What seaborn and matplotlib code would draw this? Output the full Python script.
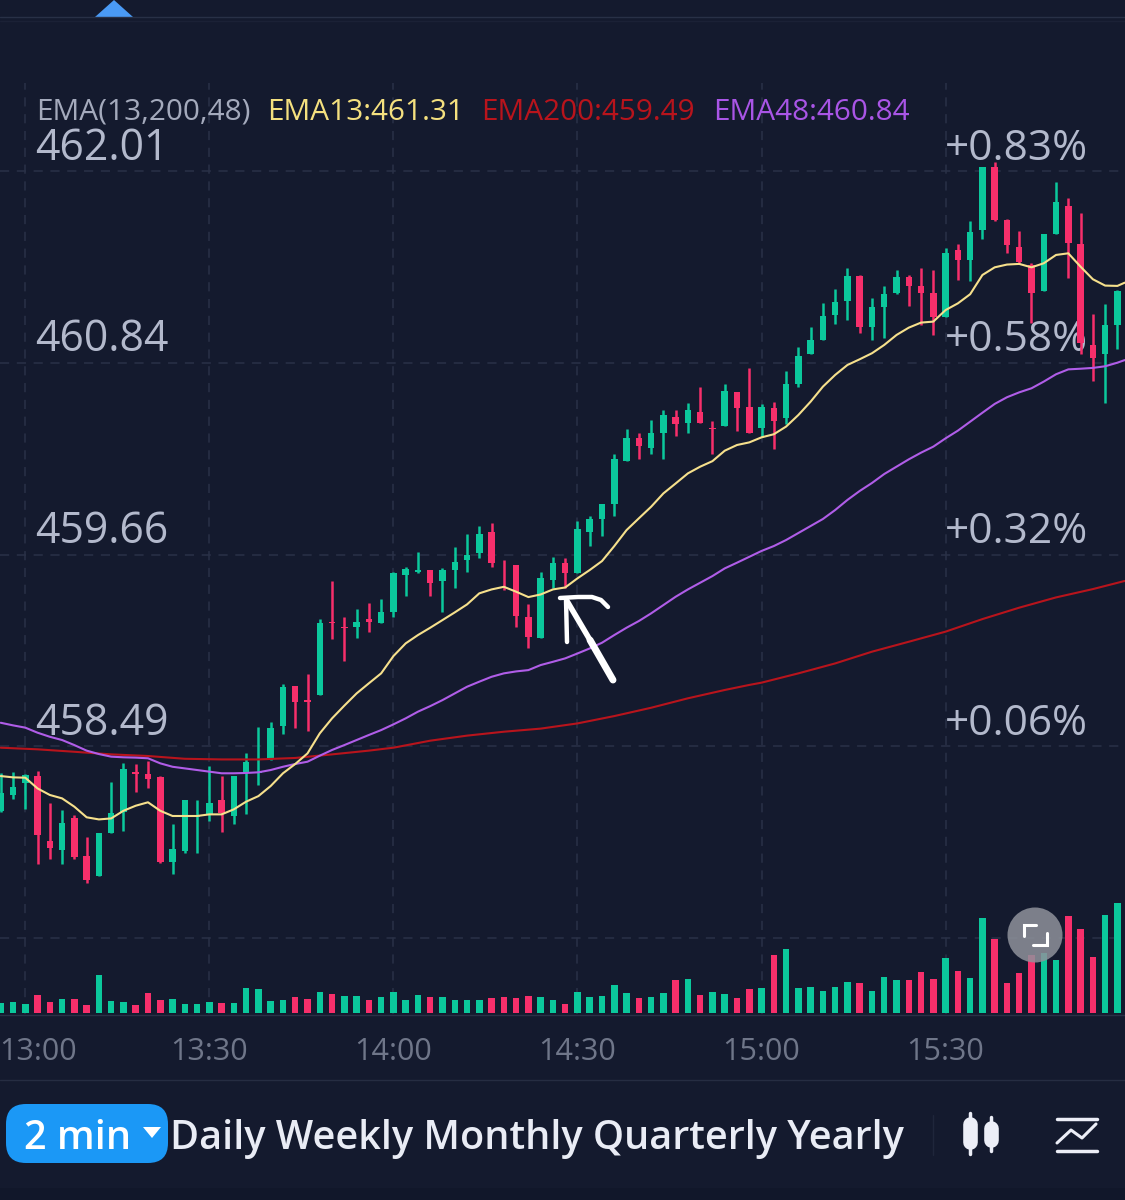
import numpy as np
import pandas as pd
import seaborn as sns
import matplotlib.pyplot as plt
from matplotlib.patches import Circle, FancyBboxPatch, Polygon

# ================================
# DATA (2 min candles, 12:56 onwards)
# ================================
opens = [458.085, 458.182, 458.253, 458.300, 457.899, 457.844, 458.043, 457.809, 457.685, 457.950, 458.079,
         458.325, 458.310, 458.294, 457.773, 457.840, 458.047, 458.059, 458.151, 458.053, 458.325, 458.317,
         458.406, 458.605, 458.852, 458.764, 458.795, 459.243, 459.212, 459.214, 459.261,
         459.234, 459.302, 459.531, 459.551, 459.562, 459.494, 459.562, 459.623, 459.664, 459.793, 459.588,
         459.592, 459.271, 459.142, 459.500, 459.603, 459.541, 459.793, 459.875, 459.965, 460.232, 460.374,
         460.312, 460.404, 460.502, 460.461, 460.533, 460.435, 460.445, 460.652, 460.564,
         460.436, 460.554, 460.493, 460.703, 460.885, 460.973, 461.127, 461.215, 461.366, 461.055, 461.174,
         461.260, 461.362, 461.305, 461.264, 461.117, 461.525, 461.464, 461.648, 462.037, 461.710, 461.546,
         461.433, 461.276, 461.624, 461.795, 461.562, 460.943, 460.888, 461.065]
closes = [458.192, 458.233, 458.304, 457.936, 457.854, 458.008, 457.803, 457.660, 457.950, 458.069, 458.341,
          458.310, 458.282, 457.773, 457.848, 458.151, 458.053, 458.130, 458.069, 458.300, 458.386, 458.325,
          458.595, 458.844, 458.754, 458.754, 459.235, 459.237, 459.208, 459.243, 459.245,
          459.302, 459.545, 459.566, 459.562, 459.484, 459.562, 459.613, 459.654, 459.782, 459.603, 459.584,
          459.281, 459.153, 459.511, 459.603, 459.541, 459.811, 459.875, 459.965, 460.243, 460.374, 460.322,
          460.404, 460.513, 460.455, 460.543, 460.466, 460.429, 460.662, 460.558, 460.404,
          460.564, 460.476, 460.703, 460.875, 460.973, 461.123, 461.204, 461.366, 461.055, 461.174, 461.256,
          461.362, 461.307, 461.264, 461.117, 461.505, 461.464, 461.634, 462.033, 461.710, 461.556, 461.454,
          461.264, 461.624, 461.822, 461.566, 460.953, 460.865, 461.065, 461.276]
highs = [458.315, 458.321, 458.308, 458.331, 458.130, 458.090, 458.059, 457.922, 457.950, 458.259, 458.380,
         458.372, 458.390, 458.300, 458.002, 458.151, 458.151, 458.359, 458.300, 458.300, 458.441, 458.601,
         458.631, 458.861, 458.852, 458.922, 459.261, 459.492, 459.272, 459.321, 459.362,
         459.382, 459.551, 459.582, 459.670, 459.562, 459.572, 459.703, 459.782, 459.832, 459.852, 459.621,
         459.592, 459.351, 459.551, 459.643, 459.633, 459.862, 459.893, 459.965, 460.271, 460.425, 460.400,
         460.482, 460.543, 460.543, 460.584, 460.682, 460.474, 460.703, 460.652, 460.799,
         460.581, 460.591, 460.783, 460.932, 461.055, 461.202, 461.284, 461.413, 461.372, 461.233, 461.305,
         461.403, 461.372, 461.413, 461.403, 461.536, 461.562, 461.703, 462.033, 462.063, 461.714, 461.644,
         461.444, 461.624, 461.945, 461.842, 461.755, 461.133, 461.194, 461.280]
lows = [458.079, 458.155, 458.094, 457.756, 457.787, 457.756, 457.787, 457.644, 457.685, 457.946, 457.963,
        458.202, 458.222, 457.766, 457.695, 457.824, 457.824, 458.024, 457.955, 458.004, 458.063, 458.243,
        458.396, 458.554, 458.595, 458.574, 458.795, 459.137, 459.004, 459.143, 459.184,
        459.234, 459.271, 459.402, 459.545, 459.402, 459.302, 459.451, 459.551, 459.633, 459.582, 459.439,
        459.214, 459.085, 459.142, 459.449, 459.453, 459.541, 459.711, 459.772, 459.895, 460.232, 460.243,
        460.273, 460.243, 460.384, 460.404, 460.466, 460.273, 460.445, 460.414, 460.404,
        460.380, 460.305, 460.456, 460.683, 460.885, 460.973, 461.072, 461.096, 461.014, 460.973, 460.984,
        461.256, 461.184, 461.065, 461.004, 461.117, 461.341, 461.335, 461.593, 461.705, 461.505, 461.444,
        461.076, 461.276, 461.624, 461.356, 460.888, 460.724, 460.585, 460.916]
volumes = [28, 31, 27, 53, 33, 41, 41, 23, 114, 34, 31, 24, 60, 39, 40, 26, 26, 32, 30, 28, 74, 71, 35, 38,
           47, 41, 63, 56, 49, 50, 38, 47, 62, 39, 54, 48, 47, 38, 38, 38, 45, 48, 44, 50, 48, 37,
           25, 63, 47, 51, 83, 59, 45, 48, 59, 98, 100, 54, 62, 56, 43, 70, 73, 173, 190, 74, 77, 64, 77,
           93, 90, 66, 107, 98, 99, 122, 101, 164, 126, 103, 284, 220, 90, 120, 173, 180, 157, 290, 250,
           166, 292, 328]
# doji candles whose volume bar is green although the candle is red
vol_green_doji = [28, 58]

ema13 = [458.298, 458.290, 458.288, 458.222, 458.182, 458.161, 458.110, 458.045, 458.032, 458.038, 458.085,
         458.116, 458.137, 458.085, 458.053, 458.053, 458.053, 458.063, 458.063, 458.094, 458.141, 458.175,
         458.237, 458.315, 458.372, 458.437, 458.560, 458.652, 458.730, 458.805, 458.867,
         458.928, 459.034, 459.112, 459.163, 459.208, 459.255, 459.302, 459.351, 459.419, 459.443, 459.459,
         459.429, 459.396, 459.412, 459.443, 459.455, 459.511, 459.562, 459.617, 459.709, 459.807, 459.879,
         459.950, 460.032, 460.093, 460.155, 460.196, 460.230, 460.294, 460.329, 460.345,
         460.376, 460.395, 460.442, 460.513, 460.595, 460.687, 460.759, 460.820, 460.855, 460.892, 460.943,
         461.004, 461.049, 461.080, 461.086, 461.157, 461.198, 461.254, 461.372, 461.419, 461.436, 461.440,
         461.419, 461.444, 461.495, 461.505, 461.423, 461.346, 461.307, 461.305, 461.325]
ema48 = [458.625, 458.609, 458.595, 458.564, 458.539, 458.519, 458.488, 458.454, 458.433, 458.417, 458.413,
         458.411, 458.407, 458.376, 458.355, 458.345, 458.335, 458.325, 458.315, 458.315, 458.317, 458.321,
         458.335, 458.355, 458.372, 458.386, 458.423, 458.458, 458.488, 458.519, 458.550,
         458.580, 458.615, 458.652, 458.693, 458.727, 458.764, 458.805, 458.846, 458.877, 458.907, 458.928,
         458.940, 458.948, 458.979, 458.999, 459.020, 459.050, 459.081, 459.116, 459.163, 459.208, 459.249,
         459.296, 459.347, 459.398, 459.443, 459.484, 459.525, 459.572, 459.607, 459.643,
         459.679, 459.709, 459.746, 459.789, 459.832, 459.875, 459.930, 459.992, 460.047, 460.096, 460.151,
         460.196, 460.241, 460.282, 460.319, 460.370, 460.417, 460.472, 460.527, 460.581, 460.622, 460.652,
         460.677, 460.718, 460.763, 460.793, 460.797, 460.802, 460.812, 460.834, 460.850]
ema200_x = [0, 3, 6, 9, 12, 15, 18, 21, 24, 27, 30, 32, 35, 38, 41, 44, 47, 50, 53, 56, 59, 61, 62, 65, 68,
            71, 74, 77, 80, 83, 86, 89, 91.6]
ema200 = [458.472, 458.462, 458.447, 458.431, 458.421, 458.404, 458.400, 458.400, 458.409, 458.431, 458.454,
          458.472, 458.515, 458.546, 458.570, 458.589, 458.621, 458.666, 458.717, 458.775, 458.826, 458.857,
          458.871, 458.928, 458.989, 459.061, 459.122, 459.184, 459.261, 459.331, 459.394, 459.445, 459.495]

time_ticks = [2, 17, 32, 47, 62, 77]
time_labels = ["13:00", "13:30", "14:00", "14:30", "15:00", "15:30"]
grid_prices = [462.01, 460.83, 459.655, 458.48, 457.305]
price_labels = ["462.01", "460.84", "459.66", "458.49"]
pct_labels = ["+0.83%", "+0.58%", "+0.32%", "+0.06%"]

# ================================
# CONFIG
# ================================
BG = "#141a2e"
GRID = "#2a3147"
GREEN = "#0bc89c"
RED = "#f72f6b"
YELLOW = "#f6e08c"
PURPLE = "#b05de8"
DARKRED = "#b8141c"
LABEL = "#b3b9cc"

sns.set_theme(style="darkgrid", rc={"figure.facecolor": BG, "axes.facecolor": BG, "grid.color": GRID})
plt.rcParams['font.family'] = ['Open Sans', 'DejaVu Sans']

W, H = 1125, 1200
fig = plt.figure(figsize=(W / 100, H / 100), dpi=100, facecolor=BG)

# pixel-coordinate layer for the app chrome, sits on top of everything
ui = fig.add_axes([0, 0, 1, 1], zorder=5)
ui.set_xlim(0, W)
ui.set_ylim(H, 0)
ui.axis("off")
ui.patch.set_alpha(0)

PX_PER_PRICE = 163
PRICE_TOP_PX, PRICE_BOTTOM_PX = 83, 1014
ax = fig.add_axes([0, 1 - PRICE_BOTTOM_PX / H, 1, (PRICE_BOTTOM_PX - PRICE_TOP_PX) / H], zorder=1)
ax.set_facecolor(BG)
vol_ax = fig.add_axes([0, 1 - 1012.7 / H, 1, 120 / H], zorder=2)
vol_ax.patch.set_alpha(0)

# ================================
# CANDLES
# ================================
idx = np.arange(len(opens))
df = pd.DataFrame({"i": idx, "open": opens, "close": closes, "high": highs, "low": lows, "volume": volumes})
df["up"] = df["close"] >= df["open"]
df["color"] = np.where(df["up"], GREEN, RED)
df["vol_up"] = df["up"] | df["i"].isin(vol_green_doji)

ax.vlines(df["i"], df["low"], df["high"], colors=df["color"], linewidth=1.8, zorder=3)
ax.bar(df["i"], (df["close"] - df["open"]).abs(), bottom=df[["open", "close"]].min(axis=1),
       width=0.53, color=df["color"], linewidth=0, zorder=3)

# EMA lines
ema_x = list(idx) + [91.6]
sns.lineplot(x=ema200_x, y=ema200, ax=ax, color=DARKRED, linewidth=1.5, zorder=4, estimator=None, sort=False)
sns.lineplot(x=ema_x, y=ema48, ax=ax, color=PURPLE, linewidth=1.5, zorder=4, estimator=None, sort=False)
sns.lineplot(x=ema_x, y=ema13, ax=ax, color=YELLOW, linewidth=1.5, zorder=4, estimator=None, sort=False)

ax.set_xlim(-0.06, 91.62)
ax.set_ylim(462.01 - (PRICE_BOTTOM_PX - 171) / PX_PER_PRICE, 462.01 + (171 - PRICE_TOP_PX) / PX_PER_PRICE)
ax.set_xticks(time_ticks)
ax.set_yticks(grid_prices)
ax.set_xlabel("")
ax.set_ylabel("")
ax.tick_params(length=0, labelbottom=False, labelleft=False)
ax.grid(True, color=GRID, linewidth=1.1, linestyle=(0, (6, 5)), zorder=0)
ax.set_axisbelow(True)
for s in ax.spines.values():
    s.set_visible(False)

# ================================
# VOLUME
# ================================
sns.barplot(data=df, x="i", y="volume", hue="vol_up", palette={True: GREEN, False: RED}, native_scale=True,
            dodge=False, width=0.53, saturation=1, linewidth=0, legend=False, ax=vol_ax)
vol_ax.set_xlim(-0.06, 91.62)
vol_ax.set_ylim(0, 360)
vol_ax.axis("off")

# ================================
# TEXT + LABELS (under the candles)
# ================================
label_baselines = [160, 351, 543, 735]
for txt, pct, y in zip(price_labels, pct_labels, label_baselines):
    ax.text(35, y, txt, transform=ui.transData, fontsize=30.8, color=LABEL, va="baseline", ha="left", zorder=2)
    ax.text(1088, y, pct, transform=ui.transData, fontsize=30.5, color=LABEL, va="baseline", ha="right", zorder=2)

header = [("EMA(13,200,48)", 36, "#a4aabc"), ("EMA13:461.31", 267, "#f4e07f"),
          ("EMA200:459.49", 481, "#b8141c"), ("EMA48:460.84", 713, "#a955e6")]
for txt, x, col in header:
    ui.text(x, 120, txt, fontsize=21.4, color=col, va="baseline", ha="left")

time_centers = [38, 209, 393, 577, 761, 945]
for x, txt in zip(time_centers, time_labels):
    ui.text(x, 1060, txt, fontsize=22, color="#6f7689", va="baseline", ha="center")

# ================================
# APP CHROME
# ================================
ui.plot([0, W], [17, 17], color="#283046", lw=1)
ui.plot([0, W], [21, 21], color="#1b2136", lw=1)
ui.plot([0, W], [1015, 1015], color="#2a3147", lw=1)
ui.plot([0, W], [1080, 1080], color="#262d42", lw=1)
ui.add_patch(Polygon([(95, 17), (133, 17), (114, 0)], color="#4a9af5", lw=0))
ui.fill_between([0, W], 1188, H, color="#11172a", lw=0)

# fullscreen button
ui.add_patch(Circle((1035, 935), 27.5, color="#8f929b", alpha=0.85, lw=0))
ui.plot([1024, 1024, 1036], [936, 925, 925], color="white", lw=2.2, solid_joinstyle="miter")
ui.plot([1046.5, 1046.5, 1033], [933, 945, 945], color="white", lw=2.2, solid_joinstyle="miter")

# period bar
ui.add_patch(FancyBboxPatch((20, 1118), 134, 31, boxstyle="round,pad=14,rounding_size=20", color="#1b98f6", lw=0))
ui.text(24, 1149, "2 min", fontsize=28.5, fontweight="semibold", color="white", va="baseline", ha="left")
ui.add_patch(Polygon([(143, 1127), (161, 1127), (152, 1138)], color="white", lw=0))
ui.text(170, 1149, "Daily Weekly Monthly Quarterly Yearly", fontsize=28.5, fontweight="semibold", color="#e9ecf5",
        va="baseline", ha="left")
ui.plot([933, 933], [1115, 1155], color="#1f263b", lw=1)

# candle + indicator icons
ICON = "#eceef7"
for x, y0, y1, w0, w1 in [(970, 1113, 1154, 1119, 1147), (991, 1117, 1151, 1123, 1145)]:
    ui.plot([x, x], [y0, y1], color=ICON, lw=2.5, solid_capstyle="round")
    ui.plot([x, x], [w0 + 5, w1 - 5], color=ICON, lw=10.5, solid_capstyle="round")
ui.plot([1057, 1097], [1119, 1119], color=ICON, lw=2.5, solid_capstyle="round")
ui.plot([1057, 1097], [1151, 1151], color=ICON, lw=2.5, solid_capstyle="round")
ui.plot([1057, 1071, 1082, 1096], [1143, 1130, 1138, 1124], color=ICON, lw=2.2, solid_capstyle="round")

# hand-drawn arrow
ui.plot([613, 590], [680, 640], color="white", lw=5, solid_capstyle="round")
ui.plot([590, 567], [640, 601], color="white", lw=4, solid_capstyle="round")
ui.plot([567, 566], [642, 599], color="white", lw=3.2, solid_capstyle="round")
ui.plot([560, 578, 592, 601, 608], [598, 597, 597, 600, 607], color="white", lw=3.2, solid_capstyle="round")

fig.savefig("out.png", dpi=100, facecolor=BG)
